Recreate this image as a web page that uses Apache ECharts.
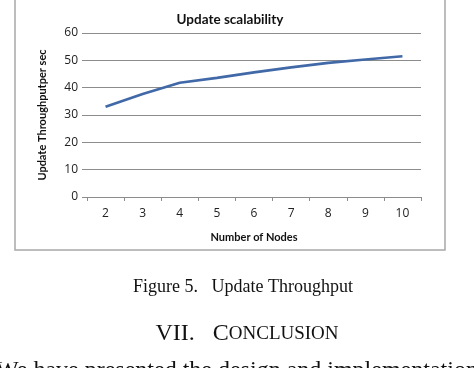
<!DOCTYPE html>
<html><head><meta charset="utf-8">
<script src="https://cdn.jsdelivr.net/npm/echarts@6/dist/echarts.min.js"></script>
<style>html,body{margin:0;padding:0;background:#fff}#c{width:474px;height:368px}</style>
</head><body><div id="c"></div>
<script>
var categories = ['2','3','4','5','6','7','8','9','10'];
var throughput = [33.0, 37.7, 41.8, 43.6, 45.6, 47.4, 49.1, 50.3, 51.5];
var yTicks = [0, 10, 20, 30, 40, 50, 60];
var chartTitle = 'Update scalability';
var xName = 'Number of Nodes';
var yName = 'Update Throughputper sec';
var caption = 'Figure 5.   Update Throughput';

var chart = echarts.init(document.getElementById('c'));
chart.setOption({
  animation: false,
  backgroundColor: '#fff',
  grid: {left: 87, right: 53, top: 33, bottom: 171},
  xAxis: {
    type: 'category', data: categories, boundaryGap: true,
    axisLine: {lineStyle: {color: '#8c8c8c', width: 1}},
    axisTick: {show: true, length: 4, lineStyle: {color: '#8c8c8c'}},
    axisLabel: {color: '#222', fontFamily: 'Open Sans', fontSize: 12, margin: 11},
    name: xName, nameLocation: 'middle', nameGap: 35,
    nameTextStyle: {fontFamily: 'Lato', fontWeight: 'bold', fontSize: 11, color: '#111'}
  },
  yAxis: {
    type: 'value', min: yTicks[0], max: yTicks[yTicks.length-1], interval: 10,
    axisLine: {show: false},
    axisTick: {show: true, length: 5, lineStyle: {color: '#8c8c8c'}},
    splitLine: {lineStyle: {color: '#8c8c8c', width: 1}},
    axisLabel: {color: '#222', fontFamily: 'Open Sans', fontSize: 12, margin: 9},
    name: yName, nameLocation: 'middle', nameGap: 39,
    nameTextStyle: {fontFamily: 'Lato', fontWeight: 'bold', fontSize: 11, color: '#111'}
  },
  series: [{
    type: 'line', data: throughput, showSymbol: false, symbol: 'none',
    lineStyle: {color: '#4169a8', width: 2.7}
  }],
  graphic: [
    {type: 'rect', shape: {x: 15, y: -2, width: 430, height: 252},
     style: {fill: 'none', stroke: '#a8a8a8', lineWidth: 1.5}, z: -1},
    {type: 'text', x: 230, y: 20, style: {text: chartTitle, font: 'bold 13.5px Lato', fill: '#111', align: 'center', verticalAlign: 'middle'}},
    {type: 'text', x: 243, y: 287, style: {text: caption, font: '18px "Liberation Serif"', fill: '#111', align: 'center', verticalAlign: 'middle'}},
    {type: 'text', x: 247, y: 334, style: {
      text: '{a|VII.   C}{b|ONCLUSION}', align: 'center', verticalAlign: 'middle',
      rich: {a: {fontFamily: 'Liberation Serif', fontSize: 24, fill: '#111', color: '#111'},
             b: {fontFamily: 'Liberation Serif', fontSize: 19, fill: '#111', color: '#111'}}
    }},
    {type: 'text', x: -4, y: 359, style: {text: 'We have presented the design and implementation', font: '24px "Liberation Serif"', fill: '#111', align: 'left', verticalAlign: 'top'}}
  ]
});
</script></body></html>
